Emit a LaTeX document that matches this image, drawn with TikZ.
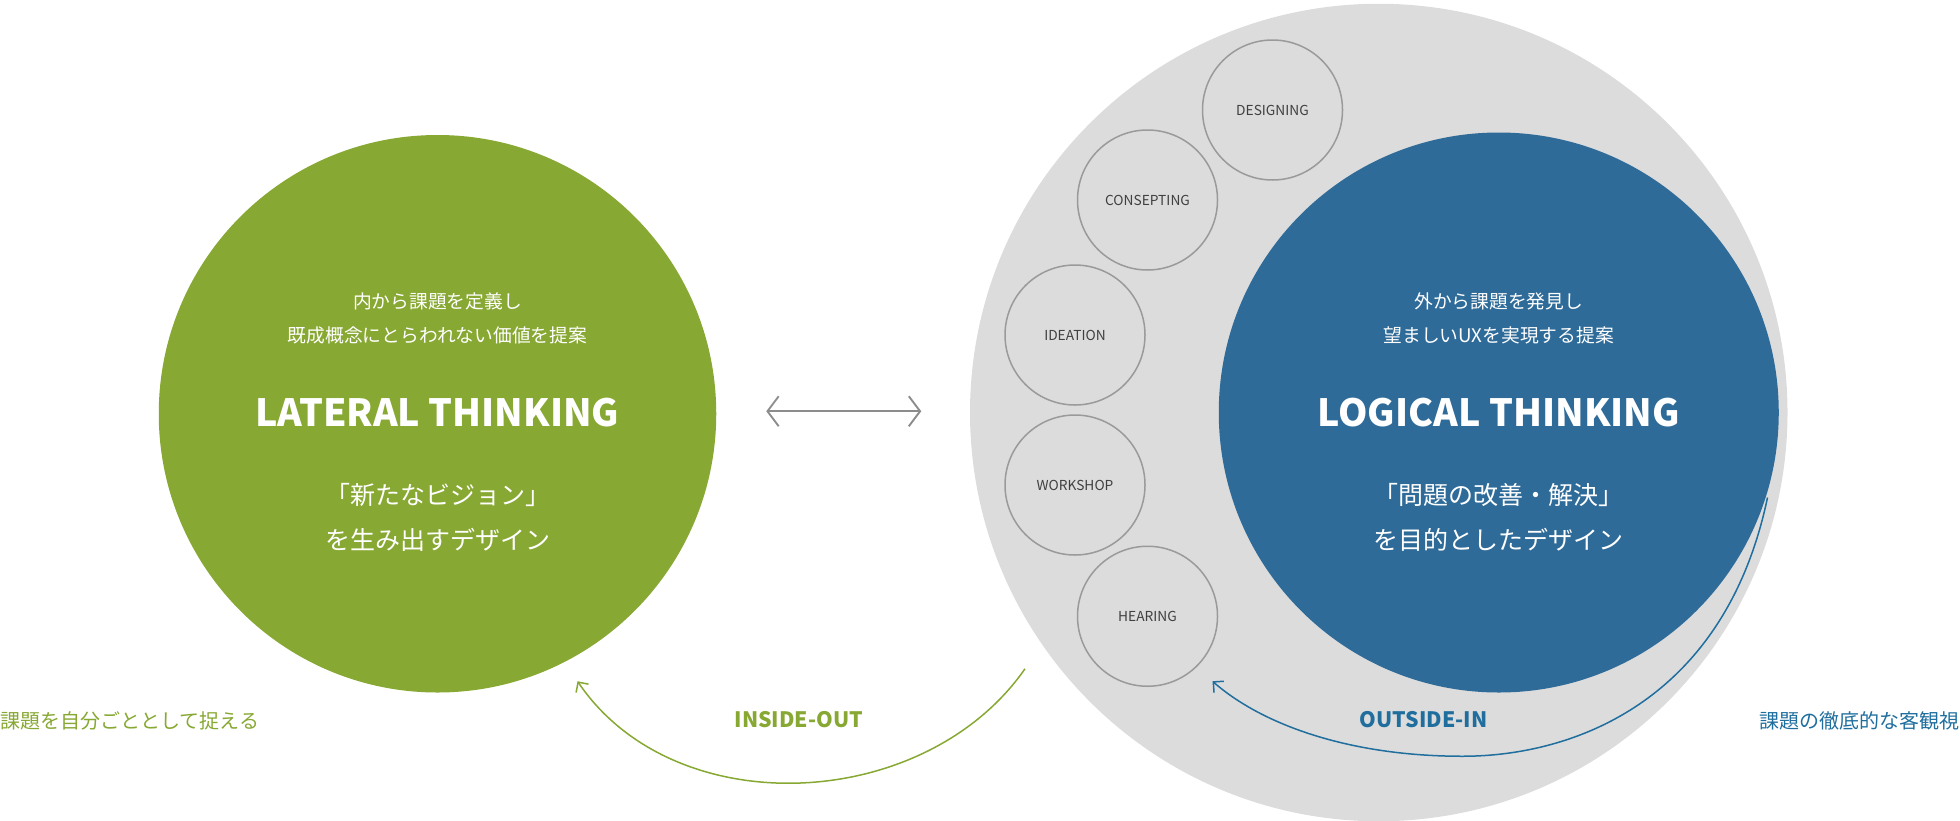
\documentclass[tikz,border=0pt]{standalone}
\usepackage{fontspec}
\setmainfont{Noto Sans CJK JP}
\usetikzlibrary{arrows.meta}
\definecolor{gr}{HTML}{87A832}
\definecolor{bl}{HTML}{2F6B98}
\definecolor{blt}{HTML}{1F6E9E}
\definecolor{lg}{HTML}{DCDCDC}
\definecolor{sc}{HTML}{9A9A9A}
\begin{document}
\begin{tikzpicture}[x=1pt,y=-1pt,
 small/.style={circle,draw=sc,line width=1.2pt,minimum size=112pt,inner sep=0pt,text=black!75,font=\fontsize{11}{13}\selectfont},
 wt/.style={text=white,align=center},
 sub/.style={font=\fontsize{15}{27}\selectfont},
 title/.style={font=\bfseries\fontsize{30}{34}\selectfont},
 big/.style={font=\fontsize{20}{36}\selectfont}]
\useasboundingbox (0,0) rectangle (1568,656);
\fill[lg] (1103,330) circle (327);
\node[circle,fill=gr,minimum size=446pt,inner sep=0pt] (L) at (350,331) {};
\node[circle,fill=bl,minimum size=448pt,inner sep=0pt] (R) at (1199,330) {};
\node[small] (d) at (1018,88) {DESIGNING};
\node[small] (c) at (918,160) {CONSEPTING};
\node[small] (i) at (860,268) {IDEATION};
\node[small] (w) at (860,388) {WORKSHOP};
\node[small] (h) at (918,493) {HEARING};
\node[wt,sub] (l1) at (350,255) {内から課題を定義し\\既成概念にとらわれない価値を提案};
\node[wt,title] (l2) at (350,330) {LATERAL THINKING};
\node[wt,big] (l3) at (350,414) {「新たなビジョン」\\を生み出すデザイン};
\node[wt,sub] (r1) at (1199,255) {外から課題を発見し\\望ましいUXを実現する提案};
\node[wt,title] (r2) at (1199,330) {LOGICAL THINKING};
\node[wt,big] (r3) at (1199,414) {「問題の改善・解決」\\を目的としたデザイン};
\coordinate (a1) at (613,329);
\coordinate (a2) at (737,329);
\draw[black!45,line width=1.5pt,{Straight Barb[length=9pt,width=24pt]}-{Straight Barb[length=9pt,width=24pt]}] (a1) -- (a2);
\coordinate (g1) at (820,535);
\coordinate (g2) at (462,545);
\draw[gr,line width=1.2pt,-{Straight Barb[length=6pt,width=12pt]}] (g1) .. controls (740,650) and (540,660) .. (g2);
\coordinate (b1) at (1414,398);
\coordinate (b2) at (970,545);
\draw[blt,line width=1.2pt,-{Straight Barb[length=6pt,width=12pt]}] (b1) .. controls (1380,560) and (1260,605) .. (1170,605) .. controls (1080,605) and (1010,580) .. (b2);
\node[text=gr,font=\bfseries\fontsize{17}{20}\selectfont] (io) at (639,576) {INSIDE-OUT};
\node[text=blt,font=\bfseries\fontsize{17}{20}\selectfont] (oi) at (1139,576) {OUTSIDE-IN};
\node[text=gr,font=\fontsize{16}{20}\selectfont,anchor=west,inner sep=0pt] (lt) at (0,577) {課題を自分ごととして捉える};
\node[text=blt,font=\fontsize{16}{20}\selectfont,anchor=east,inner sep=0pt] (rt) at (1568,577) {課題の徹底的な客観視};
\end{tikzpicture}
\end{document}
